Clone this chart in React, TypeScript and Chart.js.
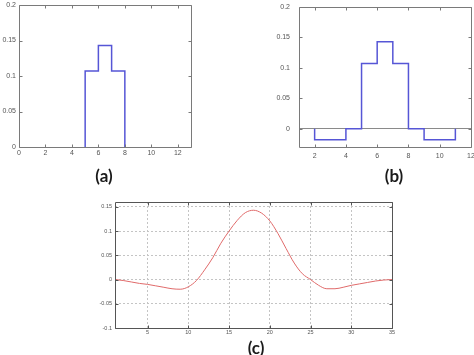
import React, { useEffect, useRef } from "react";
import { Chart, registerables } from "chart.js";

Chart.register(...registerables);

// ---- data ----
const A_X = [5, 5, 6, 7, 8];
const A_Y = [0, 0.107, 0.143, 0.107, 0];
const A_XTICKS = [0, 2, 4, 6, 8, 10, 12];
const A_YTICKS = [0, 0.05, 0.1, 0.15, 0.2];

const B_X = [2, 2, 4, 5, 6, 7, 8, 9, 11];
const B_Y = [0, -0.018, 0, 0.107, 0.143, 0.107, 0, -0.018, 0];
const B_XTICKS = [2, 4, 6, 8, 10, 12];
const B_YTICKS = [0, 0.05, 0.1, 0.15, 0.2];

const C_X = [1, 2, 3, 4, 5, 6, 7, 8, 9, 10, 11, 12, 13, 14, 15, 16, 17, 18, 19, 20, 21, 22, 23, 24, 25, 26, 27, 28, 29, 30, 31, 32, 33, 34, 35];
const C_Y = [0, -0.002, -0.005, -0.008, -0.01, -0.013, -0.016, -0.019, -0.02, -0.015, -0.002, 0.02, 0.045, 0.075, 0.1, 0.122, 0.138, 0.143, 0.137, 0.121, 0.095, 0.064, 0.034, 0.012, 0, -0.012, -0.019, -0.019, -0.016, -0.012, -0.009, -0.006, -0.003, -0.001, 0];
const C_XTICKS = [5, 10, 15, 20, 25, 30, 35];
const C_YTICKS = [-0.1, -0.05, 0, 0.05, 0.1, 0.15];

const LABELS = ["(a)", "(b)", "(c)"];

const W = 474;
const H = 355;

const fmt = (v: number) => String(Math.round(v * 1000) / 1000);

const boxPlugin = {
  id: "boxTicks",
  afterDatasetsDraw(chart: any, _args: any, opts: any) {
    const { ctx, chartArea: a, scales } = chart;
    ctx.save();
    ctx.strokeStyle = opts.color;
    ctx.lineWidth = 1;
    const L = Math.round(a.left) + 0.5;
    const R = Math.round(a.right) + 0.5;
    const T = Math.round(a.top) + 0.5;
    const B = Math.round(a.bottom) + 0.5;
    ctx.beginPath();
    ctx.moveTo(L, T);
    ctx.lineTo(R, T);
    ctx.lineTo(R, B);
    ctx.lineTo(L, B);
    ctx.lineTo(L, T);
    const tl = opts.tick || 3;
    for (const t of scales.x.ticks) {
      const px = Math.round(scales.x.getPixelForValue(t.value)) + 0.5;
      ctx.moveTo(px, B);
      ctx.lineTo(px, B - tl);
      ctx.moveTo(px, T);
      ctx.lineTo(px, T + tl);
    }
    for (const t of scales.y.ticks) {
      const py = Math.round(scales.y.getPixelForValue(t.value)) + 0.5;
      ctx.moveTo(L, py);
      ctx.lineTo(L + tl, py);
      ctx.moveTo(R, py);
      ctx.lineTo(R - tl, py);
    }
    ctx.stroke();
    ctx.restore();
  },
};

type Spec = {
  area: { left: number; top: number; right: number; bottom: number };
  xs: number[];
  ys: number[];
  xmin: number;
  xmax: number;
  ymin: number;
  ymax: number;
  xticks: number[];
  yticks: number[];
  color: string;
  lineWidth: number;
  stepped: boolean;
  fontSize: number;
  xPad: number;
  yPad: number;
  boxColor: string;
  gridX: boolean;
  gridY: "all" | "zero" | "none";
  gridColor: string;
};

function makeConfig(s: Spec): any {
  const xH = 20;
  return {
    type: "line",
    data: {
      datasets: [
        {
          data: s.xs.map((x, i) => ({ x, y: s.ys[i] })),
          borderColor: s.color,
          borderWidth: s.lineWidth,
          pointRadius: 0,
          fill: false,
          stepped: s.stepped ? "before" : false,
          cubicInterpolationMode: s.stepped ? "default" : "monotone",
          tension: s.stepped ? 0 : 0.4,
        },
      ],
    },
    options: {
      animation: false,
      responsive: false,
      maintainAspectRatio: false,
      events: [],
      layout: {
        padding: {
          left: 0,
          top: s.area.top,
          right: W - s.area.right,
          bottom: H - s.area.bottom - xH,
        },
      },
      plugins: {
        legend: { display: false },
        tooltip: { enabled: false },
        title: { display: false },
        boxTicks: { color: s.boxColor, tick: 3 },
      },
      scales: {
        x: {
          type: "linear",
          min: s.xmin,
          max: s.xmax,
          afterBuildTicks: (sc: any) => {
            sc.ticks = s.xticks.map((v) => ({ value: v }));
          },
          afterFit: (sc: any) => {
            sc.height = xH;
            sc.paddingLeft = 0;
            sc.paddingRight = 0;
          },
          border: { display: false, dash: [2, 2] },
          grid: {
            display: s.gridX,
            drawTicks: false,
            color: s.gridColor,
            lineWidth: 1,
          },
          ticks: {
            padding: s.xPad,
            maxRotation: 0,
            autoSkip: false,
            color: "#555",
            font: { family: "Liberation Sans, Arial, sans-serif", size: s.fontSize },
            callback: (v: number) => fmt(v),
          },
        },
        y: {
          type: "linear",
          min: s.ymin,
          max: s.ymax,
          afterBuildTicks: (sc: any) => {
            sc.ticks = s.yticks.map((v) => ({ value: v }));
          },
          afterFit: (sc: any) => {
            sc.width = s.area.left;
            sc.paddingTop = 0;
            sc.paddingBottom = 0;
          },
          border: { display: false, dash: s.gridY === "all" ? [2, 2] : [] },
          grid: {
            display: s.gridY !== "none",
            drawTicks: false,
            lineWidth: 1,
            color: (c: any) =>
              s.gridY === "all"
                ? s.gridColor
                : c.tick && Math.abs(c.tick.value) < 1e-9
                ? "#8a8a8a"
                : "rgba(0,0,0,0)",
          },
          ticks: {
            padding: s.yPad,
            autoSkip: false,
            color: "#555",
            font: { family: "Liberation Sans, Arial, sans-serif", size: s.fontSize },
            callback: (v: number) => fmt(v),
          },
        },
      },
    },
    plugins: [boxPlugin],
  };
}

const SPECS: Spec[] = [
  {
    area: { left: 19, top: 5, right: 191, bottom: 147 },
    xs: A_X,
    ys: A_Y,
    xmin: 0,
    xmax: 13,
    ymin: 0,
    ymax: 0.2,
    xticks: A_XTICKS,
    yticks: A_YTICKS,
    color: "#5656d6",
    lineWidth: 1.5,
    stepped: true,
    fontSize: 7,
    xPad: 2,
    yPad: 3,
    boxColor: "#7a7a7a",
    gridX: false,
    gridY: "none",
    gridColor: "#ccc",
  },
  {
    area: { left: 299, top: 7, right: 471, bottom: 147 },
    xs: B_X,
    ys: B_Y,
    xmin: 1,
    xmax: 12,
    ymin: -0.03,
    ymax: 0.2,
    xticks: B_XTICKS,
    yticks: B_YTICKS,
    color: "#5656d6",
    lineWidth: 1.5,
    stepped: true,
    fontSize: 7,
    xPad: 5,
    yPad: 9,
    boxColor: "#7a7a7a",
    gridX: false,
    gridY: "zero",
    gridColor: "#ccc",
  },
  {
    area: { left: 115, top: 202, right: 392, bottom: 328 },
    xs: C_X,
    ys: C_Y,
    xmin: 1,
    xmax: 35,
    ymin: -0.1,
    ymax: 0.16,
    xticks: C_XTICKS,
    yticks: C_YTICKS,
    color: "#e06a6a",
    lineWidth: 1,
    stepped: false,
    fontSize: 5.5,
    xPad: 1,
    yPad: 3,
    boxColor: "#555",
    gridX: true,
    gridY: "all",
    gridColor: "#c4c4c4",
  },
];

function ChartLayer({ spec }: { spec: Spec }) {
  const ref = useRef<HTMLCanvasElement | null>(null);
  useEffect(() => {
    if (!ref.current) return;
    const chart = new Chart(ref.current, makeConfig(spec));
    return () => chart.destroy();
  }, [spec]);
  return (
    <canvas
      ref={ref}
      width={W}
      height={H}
      style={{ position: "absolute", left: 0, top: 0, width: W, height: H }}
    />
  );
}

const labelStyle: React.CSSProperties = {
  position: "absolute",
  fontFamily: "Lato, 'Open Sans', 'Liberation Sans', sans-serif",
  fontWeight: 700,
  fontSize: 17,
  color: "#1a1a1a",
  transform: "translate(-50%, -50%)",
  lineHeight: 1,
  whiteSpace: "nowrap",
};

export default function App() {
  return (
    <div
      style={{
        position: "fixed",
        left: 0,
        top: 0,
        width: W,
        height: H,
        background: "#fff",
        overflow: "hidden",
      }}
    >
      {SPECS.map((s, i) => (
        <ChartLayer key={i} spec={s} />
      ))}
      <div style={{ ...labelStyle, left: 104, top: 175 }}>{LABELS[0]}</div>
      <div style={{ ...labelStyle, left: 394, top: 175 }}>{LABELS[1]}</div>
      <div style={{ ...labelStyle, left: 256, top: 347 }}>{LABELS[2]}</div>
    </div>
  );
}
